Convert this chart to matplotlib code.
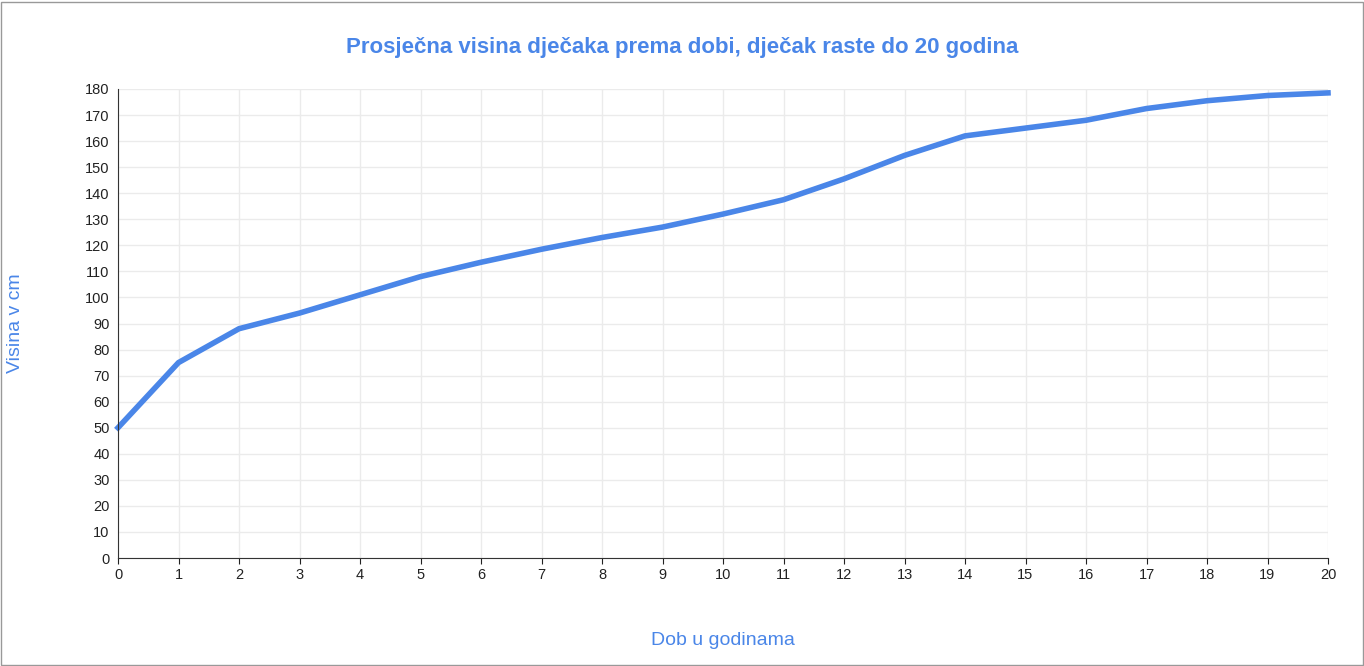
import matplotlib
matplotlib.use("Agg")
import matplotlib.pyplot as plt
from matplotlib.patches import Rectangle

plt.rcParams['font.family'] = ['Liberation Sans', 'DejaVu Sans']

ages = list(range(0, 21))
heights = [50, 75, 88, 94, 101, 108, 113.5, 118.5, 123, 127, 132, 137.5, 145.5, 154.5, 162, 165, 168, 172.5, 175.5, 177.5, 178.5]

W, H = 1364, 666
fig = plt.figure(figsize=(W/100, H/100), dpi=100)
fig.patches.append(Rectangle((1/W, 1/H), 1-2.5/W, 1-2.5/H, transform=fig.transFigure,
                             fill=False, edgecolor='#999999', linewidth=1))
ax = fig.add_axes([118/W, (H-558)/H, (1328-118)/W, (558-89)/H])
ax.plot(ages, heights, color='#4a86e8', linewidth=4, solid_joinstyle='round', clip_on=False)
ax.set_xlim(0, 20)
ax.set_ylim(0, 180)
ax.set_xticks(range(0, 21))
ax.set_yticks(range(0, 181, 10))
ax.grid(True, color='#ebebeb', linewidth=1)
ax.set_axisbelow(True)
for s in ['top', 'right']:
    ax.spines[s].set_visible(False)
ax.spines['left'].set_color('#333333')
ax.spines['bottom'].set_color('#333333')
ax.tick_params(labelsize=10.5, colors='#222222', length=4)
ax.tick_params(axis='y', length=0, pad=6)
ax.set_xlabel('Dob u godinama', color='#4a86e8', fontsize=14, labelpad=36)
ax.set_ylabel('Visina v cm', color='#4a86e8', fontsize=14, labelpad=44)
fig.text(0.5, 1-47/H, 'Prosječna visina dječaka prema dobi, dječak raste do 20 godina',
         ha='center', va='center', color='#4a86e8', fontsize=16, fontweight='bold')
fig.savefig('out.png', dpi=100)
